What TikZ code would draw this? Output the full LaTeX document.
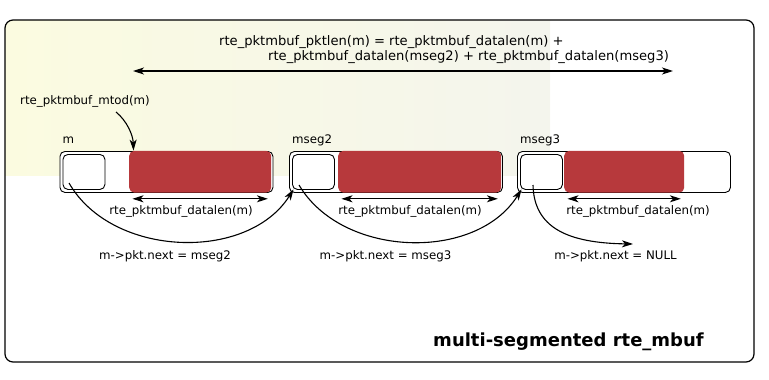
\documentclass[tikz,border=0pt]{standalone}
\usepackage{fontspec}
\setmainfont{DejaVu Sans}
\usetikzlibrary{positioning,arrows.meta}
\definecolor{mbufred}{RGB}{183,57,60}
\definecolor{glowleft}{RGB}{251,251,224}
\definecolor{glowright}{RGB}{244,245,237}
\tikzset{
  segbox/.style={draw, fill=white, rounded corners=5pt, minimum width=213pt, minimum height=41pt, inner sep=0pt, line width=0.9pt},
  headbox/.style={draw, fill=white, rounded corners=5pt, minimum width=42pt, minimum height=35pt, inner sep=0pt, line width=0.9pt},
  databox/.style={fill=mbufred, rounded corners=5pt, minimum height=41.8pt, inner sep=0pt},
  lbl/.style={font=\fontsize{11.8}{14}\selectfont, inner sep=0pt},
  biglbl/.style={font=\fontsize{13.1}{15}\selectfont, inner sep=0pt},
  arr/.style={-{Stealth[length=11pt,width=7pt,inset=3pt]}, line width=1.1pt},
  dblarr/.style={{Stealth[length=11pt,width=7pt,inset=3pt]}-{Stealth[length=11pt,width=7pt,inset=3pt]}, line width=1.1pt}
}

\begin{document}
\begin{tikzpicture}[x=1pt,y=1pt]
  \useasboundingbox (0,0) rectangle (769,-380);

  % yellowish glow in the upper left
  \begin{scope}
    \clip[rounded corners=8pt] (5,-20) rectangle (754,-362);
    \shade[left color=glowleft, right color=glowright] (5,-20) rectangle (550,-175);
  \end{scope}
  \draw[line width=1.2pt, rounded corners=8pt] (5,-20) rectangle (754,-362);

  % the three segments
  \foreach \seg/\x/\doff/\dwid/\name/\lenx in {m/59.5/69.5/142/m/181, mseg2/289/49/163/mseg2/410, mseg3/517/47/120/mseg3/638}{
    \node[segbox, anchor=north west] (\seg-box) at (\x,-151) {};
    \node[headbox, anchor=north west] (\seg-head) at (\x+3,-154) {};
    \node[databox, minimum width=\dwid pt, anchor=north west] (\seg-data) at (\x+\doff,-150.6) {};
    \node[lbl, anchor=base west] (\seg-name) at (\x+3,-143) {\name};
    \draw[dblarr] ([xshift=3.5pt,yshift=-6pt]\seg-data.south west) -- ([xshift=-3.5pt,yshift=-6pt]\seg-data.south east);
    \node[lbl] (\seg-len) at (\lenx,-211) {rte\_pktmbuf\_datalen(m)};
  }

  % total length
  \node[biglbl, anchor=west] (pktlen1) at (219,-42) {rte\_pktmbuf\_pktlen(m) = rte\_pktmbuf\_datalen(m) +};
  \node[biglbl, anchor=west] (pktlen2) at (268,-57) {rte\_pktmbuf\_datalen(mseg2) + rte\_pktmbuf\_datalen(mseg3)};
  \coordinate (tot-l) at (133,-71);
  \coordinate (tot-r) at (673,-71);
  \draw[dblarr] (tot-l) -- (tot-r);

  % mtod
  \node[lbl] (mtod) at (85,-101) {rte\_pktmbuf\_mtod(m)};
  \coordinate (mtod-out) at (116,-112);
  \draw[arr] (mtod-out) .. controls (127,-121) and (133,-135) .. ([xshift=4.5pt]m-data.north west);

  % next pointers
  \coordinate (m-out) at (69,-183);
  \coordinate (mseg2-out) at (299,-185);
  \coordinate (mseg3-out) at (533,-185);
  \coordinate (null-end) at (633,-244);
  \draw[arr] (m-out) .. controls (112,-258) and (248,-262) .. ([shift={(4.5pt,3.5pt)}]mseg2-box.south west);
  \draw[arr] (mseg2-out) .. controls (342,-258) and (476,-262) .. ([shift={(4.5pt,3.5pt)}]mseg3-box.south west);
  \draw[arr] (mseg3-out) .. controls (534,-228) and (568,-243) .. (null-end);
  \node[lbl] (next1) at (165,-256) {m->pkt.next = mseg2};
  \node[lbl] (next2) at (385.5,-256) {m->pkt.next = mseg3};
  \node[lbl] (next3) at (615.5,-256) {m->pkt.next = NULL};

  \node[font=\bfseries\fontsize{18}{22}\selectfont, inner sep=0pt] (title) at (568.5,-342) {multi-segmented rte\_mbuf};
\end{tikzpicture}
\end{document}
